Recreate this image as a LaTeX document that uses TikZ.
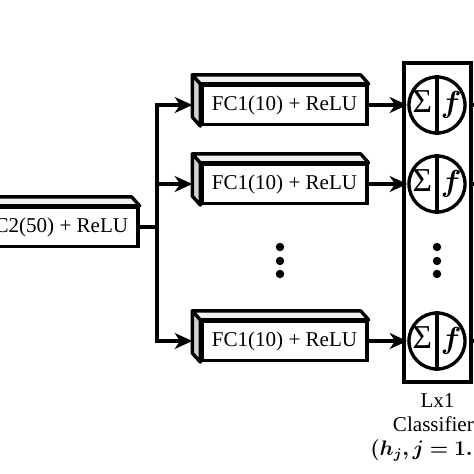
\documentclass[tikz,border=0pt]{standalone}
\usepackage{amsmath,bm}
\usepackage{fontspec}
\setmainfont{Liberation Serif}
\usetikzlibrary{arrows.meta,positioning}

\begin{document}
\begin{tikzpicture}[x=0.02cm, y=-0.02cm, line width=1.9pt,
    layer/.style={draw, fill=white, minimum width=3.3cm, minimum height=0.78cm, inner sep=0pt, font=\fontsize{12}{14}\selectfont},
    neuron/.style={circle, draw, minimum size=1.1cm, inner sep=0pt, font=\fontsize{19}{22}\selectfont},
    caption/.style={align=center, inner sep=0pt, font={\fontsize{12}{13.6}\selectfont}},
    >={Stealth[length=10pt,width=9pt,inset=3pt]}]
    \useasboundingbox (0,0) rectangle (474,474);
    \node[layer] (fc2) at (55.5,227) {FC2(50) + ReLU};
    \node[layer] (fc1a) at (284.5,105) {FC1(10) + ReLU};
    \node[layer] (fc1b) at (284.5,184) {FC1(10) + ReLU};
    \node[layer] (fc1L) at (284.5,341) {FC1(10) + ReLU};
    % side and top faces
    \foreach \n in {fc2,fc1a,fc1b,fc1L} {
        \filldraw[fill=gray!35, line join=round] (\n.north west) -- ++(-8,-9) -- ([shift={(-8,-9)}]\n.south west) -- (\n.south west) -- cycle;
        \filldraw[fill=gray!12, line join=round] (\n.north west) -- ++(-8,-9) -- ([shift={(-8,-9)}]\n.north east) -- (\n.north east) -- cycle;
    }
    \node[draw, minimum width=1.34cm, minimum height=6.38cm] (cls) at (437.5,222.5) {};
    \node[neuron] (n1) at (437,105) {Σ\hspace{5pt}$\bm{f}$};
    \node[neuron] (n2) at (437,184) {Σ\hspace{5pt}$\bm{f}$};
    \node[neuron] (nL) at (437,341) {Σ\hspace{5pt}$\bm{f}$};
    \foreach \n in {n1,n2,nL} {\draw (\n.north) -- (\n.south);}
    \node[caption, below=0.16cm of cls] (lab) {Lx1\\Classifiers\\$\bm{(h_j, j = 1..L)}$};
    % connections
    \coordinate (split) at (157,227);
    \draw (fc2) -- (split);
    \foreach \t in {fc1a,fc1b,fc1L} {\draw[->] (split) |- ([xshift=-0.16cm]\t.west);}
    \draw[->] (fc1a) -- (n1);
    \draw[->] (fc1b) -- (n2);
    \draw[->] (fc1L) -- (nL);
    \foreach \n in {n1,n2,nL} {\draw (cls.east |- \n) -- ++(10,0);}
    % dots
    \foreach \y in {247,261,274} {
        \fill (280,\y) circle (2.4pt);
        \fill (437,\y) circle (2.4pt);
    }
\end{tikzpicture}
\end{document}
